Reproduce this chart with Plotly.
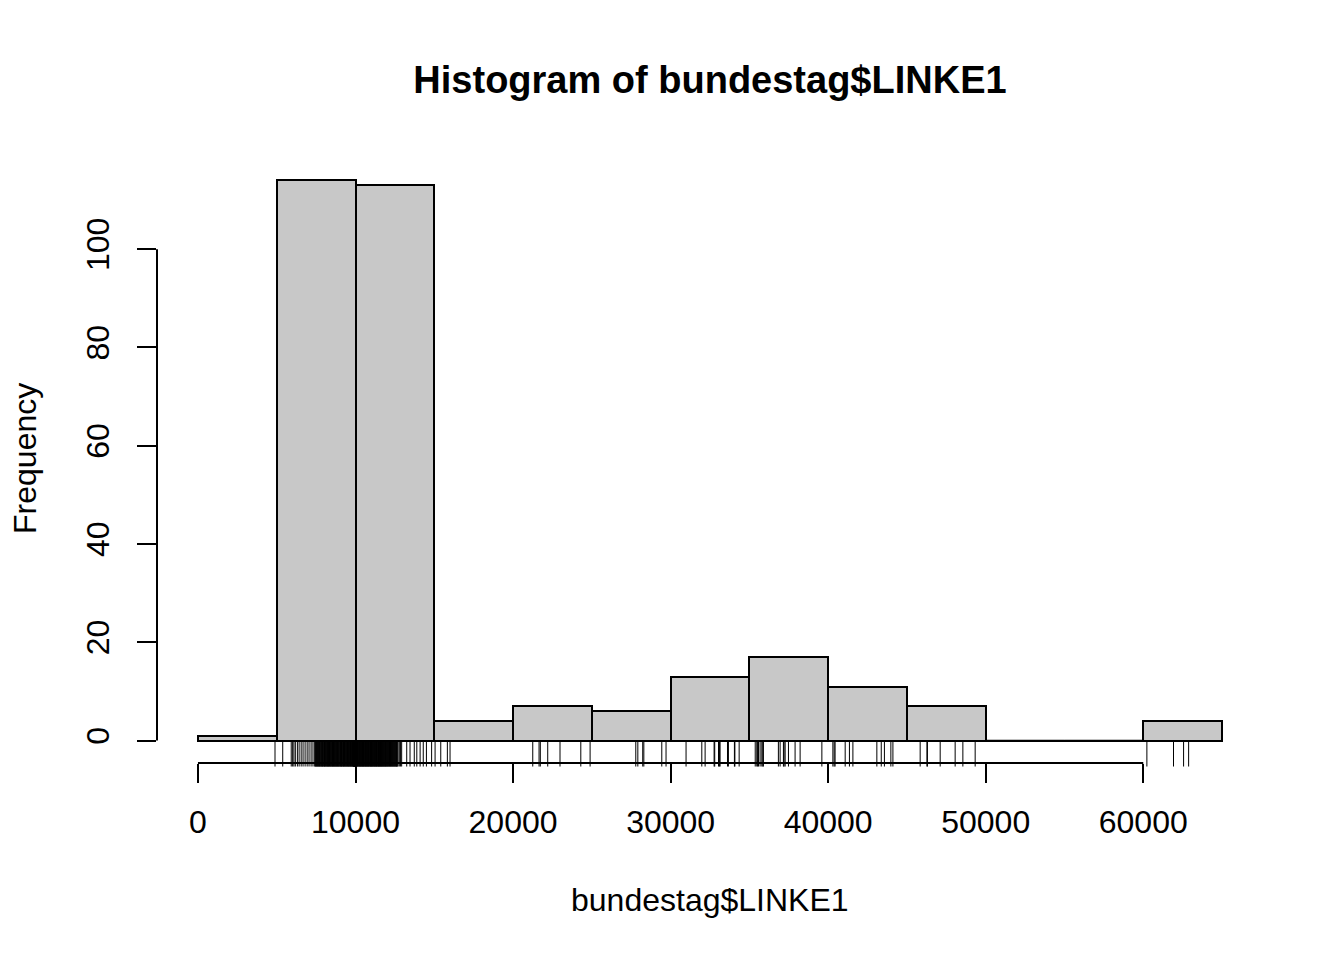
import plotly.graph_objects as go

# ---- data ----
bin_edges = [0, 5000, 10000, 15000, 20000, 25000, 30000, 35000, 40000, 45000, 50000, 55000, 60000, 65000]
counts = [1, 114, 113, 4, 7, 6, 13, 17, 11, 7, 0, 0, 4]

# rug values (in thousands), read/
rug_k = [
    4.89,
    5.38, 5.92, 6.01, 6.09, 6.18, 6.31, 6.42, 6.55, 6.67, 6.80, 6.93, 7.05, 7.18, 7.30,
    7.41, 7.44, 7.47, 7.51, 7.53, 7.58, 7.60, 7.64, 7.66, 7.71,
    7.73, 7.76, 7.80, 7.82, 7.85, 7.89, 7.91, 7.94, 7.98, 8.00,
    8.03, 8.05, 8.09, 8.12, 8.14, 8.17, 8.21, 8.23, 8.26, 8.29,
    8.31, 8.35, 8.38, 8.40, 8.43, 8.46, 8.49, 8.52, 8.54, 8.58,
    8.60, 8.63, 8.66, 8.69, 8.71, 8.74, 8.77, 8.80, 8.82, 8.86,
    8.88, 8.91, 8.94, 8.96, 9.00, 9.02, 9.05, 9.08, 9.11, 9.13,
    9.16, 9.19, 9.22, 9.24, 9.27, 9.30, 9.33, 9.35, 9.38, 9.41,
    9.44, 9.46, 9.49, 9.52, 9.55, 9.57, 9.60, 9.63, 9.65, 9.68,
    9.71, 9.73, 9.76, 9.78, 9.81, 9.83, 9.86, 9.88, 9.90, 9.92,
    9.93, 9.94, 9.95, 9.96, 9.97, 9.98, 9.99, 9.91, 9.89, 9.87,
    10.01, 10.03, 10.06, 10.08, 10.11, 10.13, 10.16, 10.18, 10.21, 10.24,
    10.26, 10.29, 10.31, 10.34, 10.36, 10.39, 10.41, 10.44, 10.46, 10.49,
    10.51, 10.54, 10.56, 10.59, 10.62, 10.64, 10.67, 10.69, 10.72, 10.74,
    10.77, 10.79, 10.82, 10.84, 10.87, 10.90, 10.92, 10.95, 10.97, 11.00,
    11.02, 11.05, 11.07, 11.10, 11.12, 11.15, 11.18, 11.20, 11.23, 11.25,
    11.28, 11.30, 11.33, 11.35, 11.38, 11.41, 11.43, 11.46, 11.48, 11.51,
    11.53, 11.56, 11.59, 11.61, 11.64, 11.66, 11.69, 11.72, 11.74, 11.77,
    11.80, 11.82, 11.85, 11.88, 11.90, 11.93, 11.96, 11.99, 12.01, 12.04,
    12.07, 12.10, 12.13, 12.16, 12.19, 12.22, 12.25, 12.28, 12.31, 12.34,
    12.37, 12.40, 12.43, 12.46, 12.49, 12.52, 12.55, 12.58, 12.61, 12.63,
    12.70, 12.86,
    12.65, 12.78, 12.93, 13.25, 13.46, 13.73, 13.89, 14.10, 14.30, 14.50, 14.83,
    15.05, 15.41, 15.83, 16.00,
    21.25, 21.65, 21.73, 22.20, 22.98, 24.30, 24.89,
    27.79, 27.92, 28.23, 28.30, 29.44, 29.71,
    30.98, 31.98, 32.19, 32.76, 32.80, 33.04, 33.10, 33.14, 33.61, 33.67, 34.05, 34.08, 34.35,
    35.37, 35.47, 35.52, 35.58, 35.68, 35.79, 35.85, 35.89, 36.84, 36.95, 37.16, 37.20, 37.27,
    37.48, 37.90, 38.22, 39.60,
    40.30, 40.38, 40.44, 41.08, 41.35, 41.57, 43.09, 43.37, 43.57, 43.98, 44.11,
    45.84, 46.27, 46.30, 47.11, 48.06, 48.55, 49.33,
    60.23, 61.92, 62.56, 62.88,
]

x_ticks = [0, 10000, 20000, 30000, 40000, 50000, 60000]
y_ticks = [0, 20, 40, 60, 80, 100]

title_text = "Histogram of bundestag$LINKE1"
x_label = "bundestag$LINKE1"
y_label = "Frequency"

# ---- derived ----
rug_vals = [v * 1000 for v in rug_k]
centers = [(a + b) / 2 for a, b in zip(bin_edges[:-1], bin_edges[1:])]
widths = [b - a for a, b in zip(bin_edges[:-1], bin_edges[1:])]

xmin, xmax = bin_edges[0], bin_edges[-1]
ymax = max(counts)
xpad = 0.04 * (xmax - xmin)
ypad = 0.04 * ymax
x_range = [xmin - xpad, xmax + xpad]
y_range = [-ypad, ymax + ypad]
rug_len = 0.03 * (y_range[1] - y_range[0])
rug_center = y_range[0] + rug_len / 2

FONT = "Liberation Sans, Arial, Helvetica, sans-serif"
LW = 2

fig = go.Figure()

fig.add_trace(go.Bar(
    x=centers, y=counts, width=widths,
    marker=dict(color="#c8c8c8", line=dict(color="black", width=LW)),
    hoverinfo="x+y", showlegend=False,
))

# zero-count bins drawn as flat lines (as R does)
zx, zy = [], []
for a, b, c in zip(bin_edges[:-1], bin_edges[1:], counts):
    if c == 0:
        zx += [a, b, None]
        zy += [0, 0, None]
fig.add_trace(go.Scatter(x=zx, y=zy, mode="lines",
                         line=dict(color="black", width=1.5),
                         hoverinfo="skip", showlegend=False))

# rug
fig.add_trace(go.Scatter(
    x=rug_vals, y=[rug_center] * len(rug_vals), mode="markers",
    marker=dict(symbol="line-ns", size=18, color="black",
                line=dict(color="black", width=1)),
    hoverinfo="x", showlegend=False, cliponaxis=False,
))

# axis lines spanning first to last tick (R style)
fig.add_shape(type="line", xref="x", yref="paper",
              x0=x_ticks[0], x1=x_ticks[-1], y0=0, y1=0,
              line=dict(color="black", width=LW))
fig.add_shape(type="line", xref="paper", yref="y",
              x0=0, x1=0, y0=y_ticks[0], y1=y_ticks[-1],
              line=dict(color="black", width=LW))

fig.update_layout(
    width=1344, height=960, autosize=False,
    margin=dict(l=149, r=89, t=150, b=205),
    paper_bgcolor="white", plot_bgcolor="white",
    font=dict(family=FONT, color="black", size=32),
    bargap=0,
    title=dict(text="<b>" + title_text + "</b>", x=0.5, xref="paper",
               y=1 - 72 / 960, yref="container", yanchor="middle", xanchor="center",
               font=dict(size=38, family=FONT, color="black")),
    xaxis=dict(range=x_range, showgrid=False, zeroline=False, showline=False,
               ticks="outside", ticklen=19, tickwidth=LW, tickcolor="black",
               tickvals=x_ticks, ticktext=[str(v) for v in x_ticks],
               ticklabelstandoff=12,
               tickfont=dict(size=32, family=FONT), fixedrange=True),
    yaxis=dict(range=y_range, showgrid=False, zeroline=False, showline=False,
               ticks="outside", ticklen=19, tickwidth=LW, tickcolor="black",
               tickvals=y_ticks, ticktext=[str(v) for v in y_ticks],
               ticklabelstandoff=15,
               tickangle=-90, tickfont=dict(size=32, family=FONT), fixedrange=True),
    annotations=[
        dict(text=x_label, xref="paper", yref="paper", x=0.5, y=(763.4 - 901) / 605.7,
             xanchor="center", yanchor="middle", showarrow=False,
             font=dict(size=32, family=FONT)),
        dict(text=y_label, xref="paper", yref="paper", x=(25 - 157) / 1106, y=0.5026,
             xanchor="center", yanchor="middle", textangle=-90, showarrow=False,
             font=dict(size=32, family=FONT)),
    ],
)

fig.write_html("out.html")
